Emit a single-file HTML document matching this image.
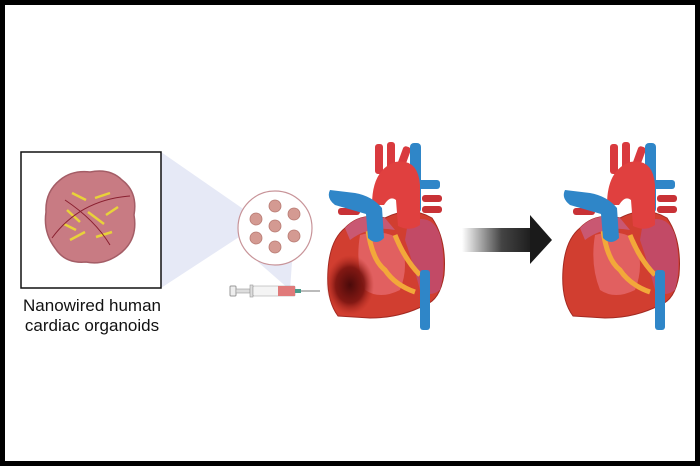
<!DOCTYPE html>
<html><head><meta charset="utf-8"><style>
html,body{margin:0;padding:0;background:#000}
svg{display:block}
</style></head><body>
<svg width="700" height="466" viewBox="0 0 700 466" xmlns="http://www.w3.org/2000/svg">
<defs>
<linearGradient id="ag" x1="0" x2="1"><stop offset="0" stop-color="#fff"/><stop offset="0.55" stop-color="#444"/><stop offset="1" stop-color="#1a1a1a"/></linearGradient>
<radialGradient id="inf" cx="0.5" cy="0.5" r="0.5"><stop offset="0" stop-color="#4a0a0a"/><stop offset="0.6" stop-color="#7a1410" stop-opacity="0.9"/><stop offset="1" stop-color="#b02a20" stop-opacity="0"/></radialGradient>
<g id="heart">
 <rect x="375" y="144" width="8" height="30" rx="3" fill="#d93a3e"/>
 <rect x="387" y="142" width="8" height="30" rx="3" fill="#d93a3e"/>
 <rect x="399" y="146" width="8" height="28" rx="3" fill="#d93a3e" transform="rotate(20 403 160)"/>
 <rect x="410" y="143" width="11" height="70" rx="4" fill="#2f86c8"/>
 <rect x="418" y="180" width="22" height="9" rx="3" fill="#2f86c8"/>
 <rect x="422" y="195" width="20" height="7" rx="3" fill="#c83236"/>
 <rect x="422" y="206" width="20" height="7" rx="3" fill="#c83236"/>
 <rect x="338" y="198" width="22" height="7" rx="3" fill="#c83236"/>
 <rect x="338" y="208" width="22" height="7" rx="3" fill="#c83236"/>
 <path d="M345 228 Q360 212 385 218 Q410 205 432 218 Q447 240 444 275 Q440 300 425 305 Q400 318 370 318 L338 316 Q326 300 328 270 Q330 240 345 228Z" fill="#d13e30" stroke="#a32a22" stroke-width="1"/>
 <path d="M408 222 Q432 212 440 235 Q447 265 440 290 Q430 298 420 290 Q412 260 405 240Z" fill="#c24a66"/>
 <path d="M360 235 Q385 228 400 240 Q410 265 400 290 Q380 300 365 290 Q355 265 360 235Z" fill="#e16060"/>
 <path d="M368 230 Q372 260 385 270 Q395 285 415 292 M395 235 Q405 260 420 275" stroke="#f2a83a" stroke-width="5" fill="none"/>
 <path d="M345 228 Q360 212 385 218 L395 230 Q370 225 350 240Z" fill="#c95872"/>
 <path d="M372 205 Q372 170 395 162 Q418 158 420 185 L420 225 Q410 232 398 226 L396 200 Q390 195 384 205Z" fill="#e0403f"/>
 <path d="M330 190 L355 193 Q372 196 382 208 L384 238 Q376 246 368 238 L366 214 L335 205 Q326 198 330 190Z" fill="#2f86c8"/>
 <rect x="420" y="270" width="10" height="60" rx="3" fill="#2f86c8"/>
</g>
</defs>
<rect x="5" y="5" width="690" height="456" fill="#fff"/>
<polygon points="161,152 161,288 262,222" fill="#e6e9f6"/>
<polygon points="258,262 292,262 290,290" fill="#e6e9f6"/>
<rect x="21" y="152" width="140" height="136" fill="#fff" stroke="#111" stroke-width="1.5"/>
<path d="M90 172 Q110 168 122 180 Q138 192 134 215 Q138 238 122 252 Q105 266 86 262 Q65 264 55 248 Q43 232 46 212 Q45 192 60 180 Q72 170 90 172Z" fill="#c87b83" stroke="#a45d66" stroke-width="1.5"/>
<g stroke="#e8d23a" stroke-width="2.5">
<line x1="72" y1="193" x2="86" y2="200"/><line x1="95" y1="198" x2="110" y2="193"/><line x1="67" y1="210" x2="80" y2="222"/><line x1="88" y1="212" x2="104" y2="224"/><line x1="70" y1="240" x2="85" y2="232"/><line x1="96" y1="237" x2="112" y2="232"/><line x1="106" y1="215" x2="118" y2="207"/><line x1="64" y1="224" x2="76" y2="230"/>
</g>
<path d="M52 238 Q80 200 130 196 M65 200 Q95 220 110 245" stroke="#8a2030" stroke-width="1" fill="none"/>
<text x="92" y="311" font-family="Liberation Sans, sans-serif" font-size="17" text-anchor="middle" fill="#111">Nanowired human</text>
<text x="92" y="331" font-family="Liberation Sans, sans-serif" font-size="17" text-anchor="middle" fill="#111">cardiac organoids</text>
<circle cx="275" cy="228" r="37" fill="#fff" stroke="#c89499" stroke-width="1.2"/>
<g fill="#d49a92" stroke="#b77a72" stroke-width="0.8">
<circle cx="256" cy="219" r="6"/><circle cx="275" cy="206" r="6"/><circle cx="294" cy="214" r="6"/><circle cx="275" cy="226" r="6"/><circle cx="256" cy="238" r="6"/><circle cx="294" cy="236" r="6"/><circle cx="275" cy="247" r="6"/>
</g>
<rect x="230" y="286" width="6" height="10" rx="1" fill="#eee" stroke="#999"/>
<rect x="236" y="289" width="14" height="4" fill="#ddd" stroke="#999" stroke-width="0.6"/>
<rect x="250" y="285" width="3" height="12" fill="#ddd" stroke="#999" stroke-width="0.6"/>
<rect x="253" y="286" width="42" height="10" rx="1" fill="#f4f4f4" stroke="#999" stroke-width="0.6"/>
<rect x="278" y="286" width="17" height="10" fill="#e07a7a"/>
<rect x="295" y="289" width="6" height="4" fill="#4a9a8a"/>
<line x1="301" y1="291" x2="320" y2="291" stroke="#777"/>
<use href="#heart"/>
<ellipse cx="350" cy="285" rx="24" ry="30" fill="url(#inf)"/>
<use href="#heart" transform="translate(235 0)"/>
<rect x="462" y="228" width="72" height="24" fill="url(#ag)"/>
<polygon points="530,215 552,240 530,264" fill="#1a1a1a"/>
</svg>
</body></html>
